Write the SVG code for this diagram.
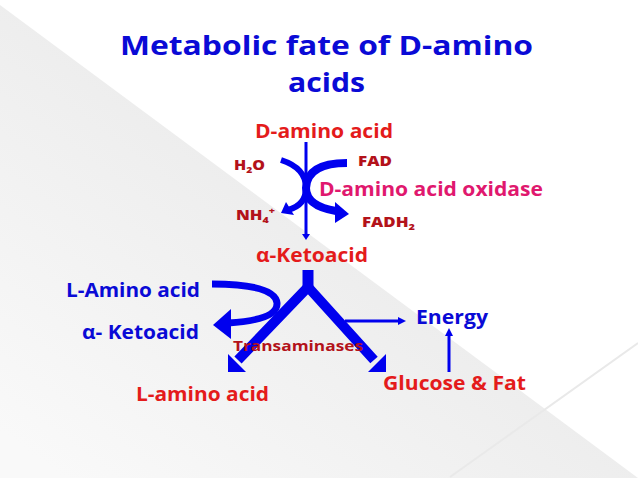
<svg xmlns="http://www.w3.org/2000/svg" width="638" height="478" viewBox="0 0 638 478">
<defs>
<linearGradient id="bg" x1="0.6" y1="0.4" x2="0.05" y2="0.95">
<stop offset="0" stop-color="#ebebeb"/>
<stop offset="1" stop-color="#f9f9f9"/>
</linearGradient>
<style>
text{font-family:"Open Sans","Noto Sans","Liberation Sans",sans-serif}
.title{font-size:27px;font-weight:700;fill:#0a0ad6}
.red{font-size:20px;font-weight:700;fill:#e41b1b}
.blue{font-size:20px;font-weight:700;fill:#0a0ad6}
.dred{font-size:14px;font-weight:800;fill:#b3121a}
.sub{font-size:9px}
.enz{font-size:20px;font-weight:700;fill:#e0186e}
.trans{font-size:15px;font-weight:700;fill:#b3121a}
.ln{fill:none;stroke:#0000ee}
.hd{fill:#0000ee}
</style>
</defs>
<rect width="638" height="478" fill="#ffffff"/>
<polygon points="0,5 638,478 0,478" fill="url(#bg)"/>
<line x1="450" y1="477" x2="638" y2="343" stroke="#e9e9e9" stroke-width="2"/>
<g id="title">
<text class="title" x="120" y="55" textLength="413" lengthAdjust="spacingAndGlyphs">Metabolic fate of D-amino</text>
<text class="title" x="288" y="92" textLength="77" lengthAdjust="spacingAndGlyphs">acids</text>
</g>
<g id="connectors">
<line class="ln" x1="306" y1="142" x2="306" y2="235" stroke-width="3"/>
<polygon class="hd" points="302,234 310,234 306,240"/>
<path class="ln" d="M281,160 Q306,168 306,188 Q306,205 288,210" stroke-width="6"/>
<polygon class="hd" points="281,213 286,202 294,215"/>
<path class="ln" d="M347,163 Q307,163 306,188 Q306,206 336,211" stroke-width="8"/>
<polygon class="hd" points="349,214 335,202 335,223"/>
<path class="ln" d="M212,284 Q275,284 277,303 Q278,320 228,323" stroke-width="7"/>
<polygon class="hd" points="213,325 231,309 231,339"/>
<line class="ln" x1="308" y1="270" x2="308" y2="290" stroke-width="11"/>
<path class="ln" d="M238,360 L308,287 L374,360" stroke-width="10" stroke-linejoin="miter"/>
<polygon class="hd" points="228,372 228,354 246,372"/>
<polygon class="hd" points="386,372 386,354 368,372"/>
<line class="ln" x1="345" y1="321" x2="400" y2="321" stroke-width="3"/>
<polygon class="hd" points="398,317 406,321 398,325"/>
<line class="ln" x1="449" y1="372" x2="449" y2="334" stroke-width="3"/>
<polygon class="hd" points="445,336 449,328 453,336"/>
</g>
<g id="d-amino-acid"><text class="red" x="255" y="138" textLength="138" lengthAdjust="spacingAndGlyphs">D-amino acid</text></g>
<g id="h2o"><text class="dred" x="234" y="170" textLength="31" lengthAdjust="spacingAndGlyphs">H<tspan class="sub" dy="3">2</tspan><tspan dy="-3">O</tspan></text></g>
<g id="fad"><text class="dred" x="358" y="166" textLength="34" lengthAdjust="spacingAndGlyphs">FAD</text></g>
<g id="oxidase"><text class="enz" x="319" y="196" textLength="224" lengthAdjust="spacingAndGlyphs">D-amino acid oxidase</text></g>
<g id="nh4"><text class="dred" x="236" y="220" textLength="39" lengthAdjust="spacingAndGlyphs">NH<tspan class="sub" dy="3">4</tspan><tspan class="sub" dy="-9">+</tspan></text></g>
<g id="fadh2"><text class="dred" x="362" y="227" textLength="53" lengthAdjust="spacingAndGlyphs">FADH<tspan class="sub" dy="3">2</tspan></text></g>
<g id="ketoacid"><text class="red" x="256" y="262" textLength="112" lengthAdjust="spacingAndGlyphs">α-Ketoacid</text></g>
<g id="l-amino-acid-in"><text class="blue" x="66" y="297" textLength="134" lengthAdjust="spacingAndGlyphs">L-Amino acid</text></g>
<g id="alpha-keto-out"><text class="blue" x="82" y="339" textLength="117" lengthAdjust="spacingAndGlyphs">α- Ketoacid</text></g>
<g id="transaminases"><text class="trans" x="233" y="351" textLength="130" lengthAdjust="spacingAndGlyphs">Transaminases</text></g>
<g id="energy"><text class="blue" x="416" y="324" textLength="72" lengthAdjust="spacingAndGlyphs">Energy</text></g>
<g id="glucose-fat"><text class="red" x="383" y="390" textLength="143" lengthAdjust="spacingAndGlyphs">Glucose &amp; Fat</text></g>
<g id="l-amino-acid-out"><text class="red" x="136" y="401" textLength="133" lengthAdjust="spacingAndGlyphs">L-amino acid</text></g>
</svg>
